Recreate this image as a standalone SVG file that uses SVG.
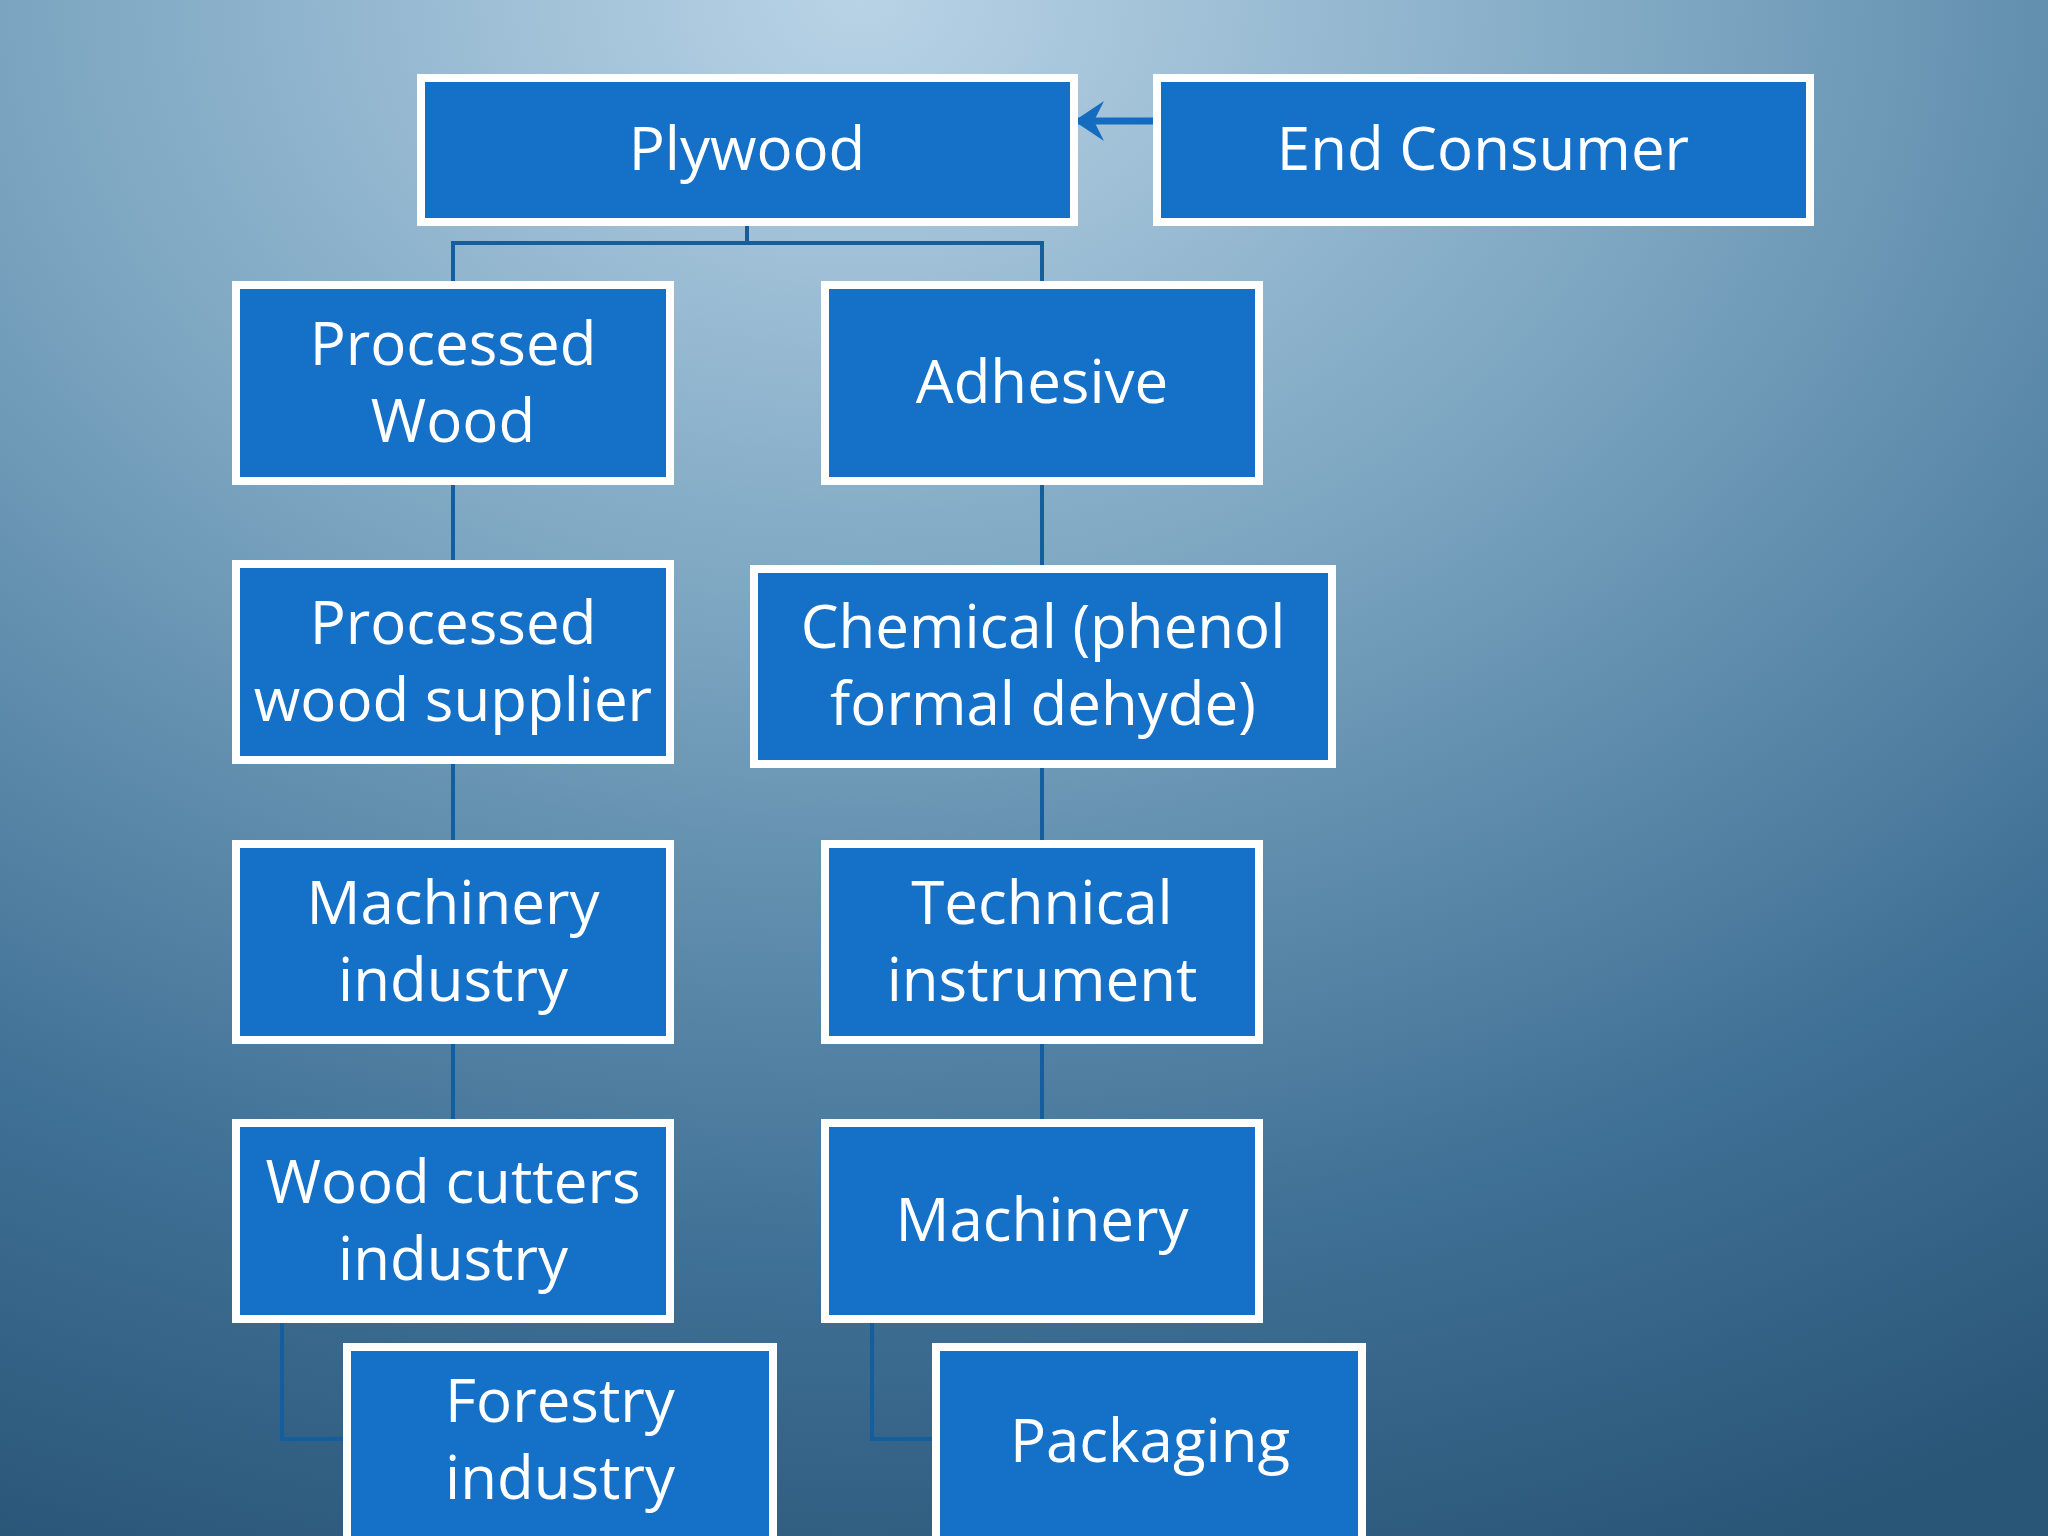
<svg xmlns="http://www.w3.org/2000/svg" width="2048" height="1536" viewBox="0 0 2048 1536">
<defs>
<radialGradient id="bg" cx="0.42" cy="0" r="1.1" fx="0.42" fy="0">
<stop offset="0" stop-color="#b9d3e6"/>
<stop offset="0.35" stop-color="#7fa8c3"/>
<stop offset="0.75" stop-color="#3f7095"/>
<stop offset="1" stop-color="#295577"/>
</radialGradient>
<marker id="arr2" markerWidth="30" markerHeight="40" refX="28" refY="20" orient="auto" markerUnits="userSpaceOnUse">
<path d="M0,0 L30,20 L0,40 L10,20 Z" fill="#156cbf"/>
</marker>
</defs>
<style>
.b{fill:#1570c8;stroke:#ffffff;stroke-width:8}
.t{font-family:"Open Sans","Liberation Sans",sans-serif;font-size:60px;fill:#ffffff;text-anchor:middle}
.c{fill:none;stroke:#155e9e;stroke-width:4}
</style>
<rect width="2048" height="1536" fill="url(#bg)"/>
<g id="connectors">
<polyline class="c" points="747,222 747,243"/>
<polyline class="c" points="453,285 453,243 1042,243 1042,285"/>
<line class="c" x1="453" y1="481" x2="453" y2="564"/>
<line class="c" x1="453" y1="760" x2="453" y2="844"/>
<line class="c" x1="453" y1="1040" x2="453" y2="1123"/>
<line class="c" x1="1042" y1="481" x2="1042" y2="569"/>
<line class="c" x1="1042" y1="764" x2="1042" y2="844"/>
<line class="c" x1="1042" y1="1040" x2="1042" y2="1123"/>
<polyline class="c" points="282,1319 282,1439 343,1439"/>
<polyline class="c" points="872,1319 872,1439 932,1439"/>
<line x1="1157" y1="121" x2="1076" y2="121" stroke="#156cbf" stroke-width="7" marker-end="url(#arr2)"/>
</g>
<g id="plywood"><rect class="b" x="421" y="78" width="653" height="144"/><text class="t" x="747" y="170">Plywood</text></g>
<g id="end-consumer"><rect class="b" x="1157" y="78" width="653" height="144"/><text class="t" x="1483" y="170">End Consumer</text></g>
<g id="processed-wood"><rect class="b" x="236" y="285" width="434" height="196"/><text class="t" x="453" y="365">Processed</text><text class="t" x="453" y="442">Wood</text></g>
<g id="adhesive"><rect class="b" x="825" y="285" width="434" height="196"/><text class="t" x="1042" y="403">Adhesive</text></g>
<g id="processed-wood-supplier"><rect class="b" x="236" y="564" width="434" height="196"/><text class="t" x="453" y="644">Processed</text><text class="t" x="453" y="721">wood supplier</text></g>
<g id="chemical"><rect class="b" x="754" y="569" width="578" height="195"/><text class="t" x="1043" y="648">Chemical (phenol</text><text class="t" x="1043" y="725">formal dehyde)</text></g>
<g id="machinery-industry"><rect class="b" x="236" y="844" width="434" height="196"/><text class="t" x="453" y="924">Machinery</text><text class="t" x="453" y="1001">industry</text></g>
<g id="technical-instrument"><rect class="b" x="825" y="844" width="434" height="196"/><text class="t" x="1042" y="924">Technical</text><text class="t" x="1042" y="1001">instrument</text></g>
<g id="wood-cutters"><rect class="b" x="236" y="1123" width="434" height="196"/><text class="t" x="453" y="1203">Wood cutters</text><text class="t" x="453" y="1280">industry</text></g>
<g id="machinery"><rect class="b" x="825" y="1123" width="434" height="196"/><text class="t" x="1042" y="1241">Machinery</text></g>
<g id="forestry"><rect class="b" x="347" y="1347" width="426" height="200"/><text class="t" x="560" y="1422">Forestry</text><text class="t" x="560" y="1499">industry</text></g>
<g id="packaging"><rect class="b" x="936" y="1347" width="426" height="200"/><text class="t" x="1150" y="1462">Packaging</text></g>
</svg>
